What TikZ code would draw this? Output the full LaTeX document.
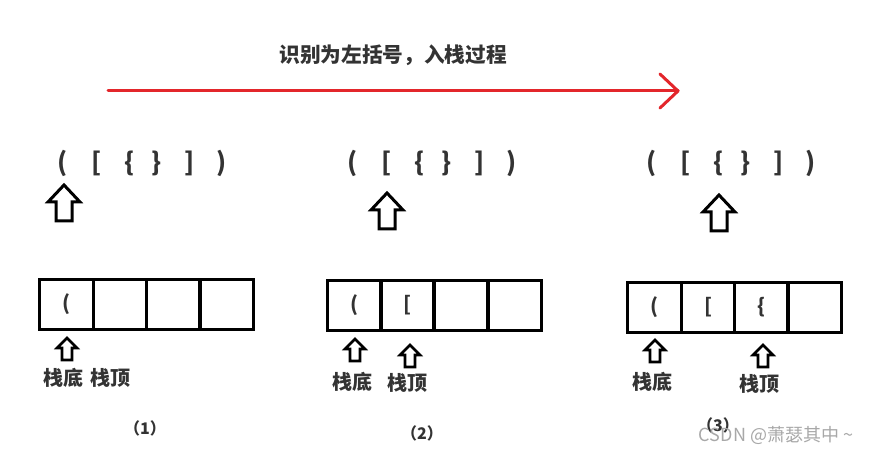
\documentclass[tikz,border=0pt]{standalone}
\usepackage{fontspec}
\newfontfamily\cjk{Noto Sans CJK SC}
\definecolor{arrowred}{HTML}{E3262B}
\definecolor{txtgray}{HTML}{333333}
\definecolor{wmgray}{HTML}{A8A8A8}
\begin{document}
\begin{tikzpicture}[x=0.75pt,y=-0.75pt,
  cell/.style={draw, line width=2.25pt, minimum width=40pt, minimum height=37.5pt, inner sep=0pt,
    font=\cjk\bfseries\fontsize{15}{15}\selectfont, text=txtgray},
  brk/.style={inner sep=0pt, font=\cjk\bfseries\fontsize{19}{19}\selectfont, text=txtgray},
  lbl/.style={inner sep=0pt, font=\cjk\bfseries\fontsize{15}{15}\selectfont, text=txtgray},
  captext/.style={inner sep=0pt, font=\cjk\bfseries\fontsize{12}{12}\selectfont, text=txtgray},
  bigup/.pic={\draw[line width=2.25pt, fill=white, line join=miter]
     (0,0) -- (-16,17) -- (-8,17) -- (-8,36) -- (8,36) -- (8,17) -- (16,17) -- cycle;},
  smallup/.pic={\draw[line width=2pt, fill=white, line join=miter]
     (0,0) -- (-10,10) -- (-5,10) -- (-5,22) -- (5,22) -- (5,10) -- (10,10) -- cycle;},
  redline/.style={draw=arrowred, line width=2.25pt, line cap=round}
]
\useasboundingbox (0,0) rectangle (875,456);

% title and red arrow
\node[inner sep=0pt, font=\cjk\bfseries\fontsize{15.5}{15.5}\selectfont, text=txtgray] (title) at (393,55) {识别为左括号，入栈过程};
\coordinate (rs) at (108,91);
\coordinate (re) at (678,91);
\draw[redline] (rs) -- (re);
\draw[redline] (re) -- ++(-18,-17);
\draw[redline] (re) -- ++(-18,17);

% bracket rows
\foreach \r/\xo in {1/0, 2/290, 3/589}{
  \node[brk] (r\r a) at (63+\xo,163) {(};
  \node[brk] (r\r b) at (97+\xo,163) {[};
  \node[brk] (r\r c) at (130+\xo,163) {\{};
  \node[brk] (r\r d) at (157+\xo,163) {\}};
  \node[brk] (r\r e) at (190+\xo,163) {]};
  \node[brk] (r\r f) at (222+\xo,163) {)};
}
\pic (p1) at (64,185) {bigup};
\pic (p2) at (387,193) {bigup};
\pic (p3) at (719,195) {bigup};

% stack 1
\node[cell] (s1a) at (66.5,304) {(};
\node[cell] (s1b) at (120,304) {};
\node[cell] (s1c) at (173.5,304) {};
\node[cell] (s1d) at (226.5,304) {};
\pic (q1) at (67,338) {smallup};
\node[lbl] (l1a) at (63,378) {栈底};
\node[lbl] (l1b) at (110,378) {栈顶};

% stack 2
\node[cell] (s2a) at (354.5,305.5) {(};
\node[cell] (s2b) at (407.5,305.5) {[};
\node[cell] (s2c) at (460.5,305.5) {};
\node[cell] (s2d) at (515,305.5) {};
\pic (q2a) at (355,339) {smallup};
\pic (q2b) at (410,345) {smallup};
\node[lbl] (l2a) at (352,382) {栈底};
\node[lbl] (l2b) at (407,383) {栈顶};

% stack 3
\node[cell] (s3a) at (654.5,307) {(};
\node[cell] (s3b) at (708,307) {[};
\node[cell] (s3c) at (761,307) {\{};
\node[cell] (s3d) at (815,307) {};
\pic (q3a) at (655,340) {smallup};
\pic (q3b) at (763,345) {smallup};
\node[lbl] (l3a) at (652,382) {栈底};
\node[lbl] (l3b) at (759,384) {栈顶};

% captions
\node[captext] (c1) at (145,428) {（1）};
\node[captext] (c2) at (422,433) {（2）};
\node[captext] (c3) at (718,425) {（3）};
\node[inner sep=0pt, font=\cjk\fontsize{13.5}{13.5}\selectfont, text=wmgray] (wm) at (776,435) {CSDN @萧瑟其中 \textasciitilde};
\end{tikzpicture}
\end{document}
